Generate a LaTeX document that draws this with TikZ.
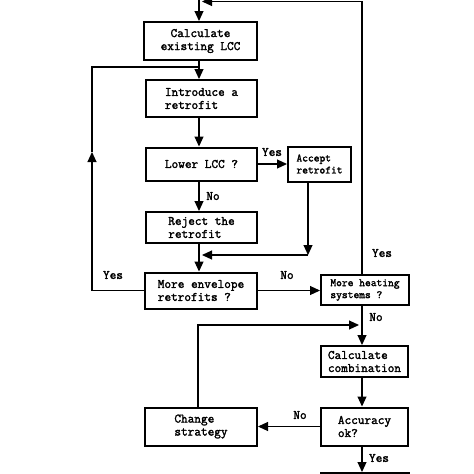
\documentclass[tikz,border=0pt]{standalone}
\usepackage{fontspec}
\setmonofont{Latin Modern Mono}[AutoFakeBold=2]
\usetikzlibrary{arrows.meta}
\begin{document}
\begin{tikzpicture}[x=1pt,y=-1pt,
 box/.style={draw, line width=2pt, inner sep=0pt, font=\ttfamily\bfseries\fontsize{12.9}{13}\selectfont, align=left},
 sbox/.style={box, font=\ttfamily\bfseries\fontsize{11.2}{12}\selectfont},
 conn/.style={line width=1.1pt},
 arr/.style={conn, -{Triangle[length=10pt,width=9pt]}},
 lbl/.style={font=\ttfamily\bfseries\fontsize{12.9}{13}\selectfont, inner sep=0pt}]
\useasboundingbox (0,0) rectangle (474,474);
\clip (0,0) rectangle (474,474);
% nodes
\node[box, minimum width=113pt, minimum height=38pt, align=center] (calc) at (200.5,41) {Calculate\\existing LCC};
\node[box, minimum width=111pt, minimum height=37pt] (intro) at (201.5,98.5) {Introduce a\\retrofit};
\node[box, minimum width=111pt, minimum height=33pt] (lower) at (201.5,164) {Lower LCC ?};
\node[sbox, minimum width=63pt, minimum height=35pt] (accept) at (319.5,164) {Accept\\retrofit};
\node[box, minimum width=111pt, minimum height=31pt] (reject) at (201.5,227.5) {Reject the\\retrofit};
\node[box, minimum width=112pt, minimum height=36pt] (envelope) at (201,290.5) {More envelope\\retrofits ?};
\node[sbox, minimum width=88pt, minimum height=30pt] (heating) at (365,290) {More heating\\systems ?};
\node[box, minimum width=87pt, minimum height=31pt] (comb) at (364.5,361.5) {Calculate\\combination};
\node[box, minimum width=87pt, minimum height=38pt] (accuracy) at (364.5,426.5) {Accuracy\\ok?};
\node[box, minimum width=112pt, minimum height=38pt] (change) at (201,426.5) {Change\\strategy};
\node[box, minimum width=88pt, minimum height=38pt] (final) at (365,492) {};
% coordinates
\coordinate (mx) at (199,0);
\coordinate (rx) at (362,0);
\coordinate (topin) at (199,-5);
\coordinate (topend) at (202,1.5);
\coordinate (lmid) at (92,152);
\coordinate (ltop) at (92,67);
\coordinate (ax) at (308,255);
\coordinate (axend) at (202,255);
\coordinate (bl) at (198,325);
\coordinate (blend) at (359,325);
% connectors
\draw[arr] (topin) -- (calc.north -| mx);
\draw[arr] (heating.north -| rx) |- (topend);
\draw[arr] (calc.south -| mx) -- (intro.north -| mx);
\draw[arr] (intro.south -| mx) -- (lower.north -| mx);
\draw[arr] (lower.east) -- (accept.west);
\draw[arr] (lower.south -| mx) -- (reject.north -| mx);
\draw[arr] (reject.south -| mx) -- (envelope.north -| mx);
\draw[arr] (accept.south -| ax) -- (ax);
\draw[arr] (ax) -- (axend);
\draw[arr] (envelope.west) -| (lmid);
\draw[conn] (lmid) -- (ltop) -- (ltop -| mx);
\draw[arr] (envelope.east) -- (envelope.east -| heating.west);
\draw[arr] (heating.south -| rx) -- (comb.north -| rx);
\draw[arr] (change.north -| bl) -- (bl) -- (blend);
\draw[arr] (comb.south -| rx) -- (accuracy.north -| rx);
\draw[arr] (accuracy.west) -- (change.east);
\draw[arr] (accuracy.south -| rx) -- (final.north -| rx);
% labels
\node[lbl] (l1) at (272,152) {Yes};
\node[lbl] (l2) at (213,196) {No};
\node[lbl] (l3) at (113,275) {Yes};
\node[lbl] (l4) at (287,275) {No};
\node[lbl] (l5) at (382,253) {Yes};
\node[lbl] (l6) at (376,317) {No};
\node[lbl] (l7) at (300,415) {No};
\node[lbl] (l8) at (379,458) {Yes};
\end{tikzpicture}
\end{document}
